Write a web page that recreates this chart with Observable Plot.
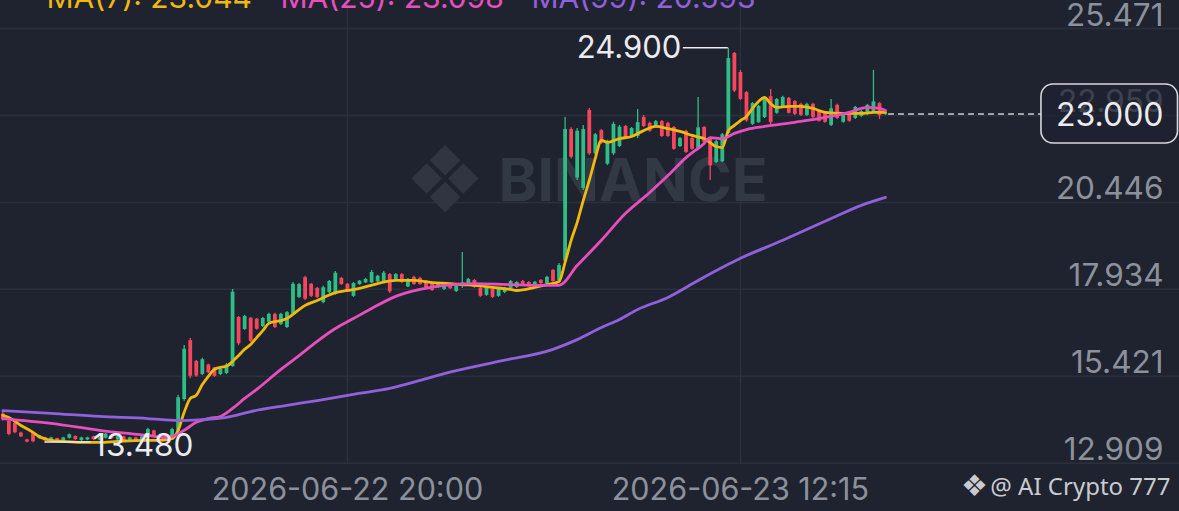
<!DOCTYPE html>
<html><head><meta charset="utf-8">
<script src="https://cdn.jsdelivr.net/npm/d3@7"></script>
<script src="https://cdn.jsdelivr.net/npm/@observablehq/plot@0.6"></script>
<style>
html,body{margin:0;padding:0;background:#1f2330;overflow:hidden;}
#chart svg{display:block;}
</style></head><body><div id="chart"></div>
<script>
// ---- data (15-minute candles, first one 2026-06-22 05:45 UTC) ----
const startTime = "2026-06-22T05:45:00Z";
const open = [14.33,14.12,14.06,13.78,13.58,13.77,13.63,13.64,13.57,13.62,13.55,13.63,13.68,13.56,13.58,13.67,13.58,13.63,13.71,13.58,
13.67,13.57,13.64,13.58,13.72,13.84,13.64,13.70,13.63,13.83,14.75,16.45,15.85,15.47,15.75,15.66,15.47,15.50,15.70,17.12,
16.77,17.10,17.07,16.86,16.98,17.21,16.92,16.83,17.21,17.70,18.27,18.08,17.96,17.55,17.84,17.79,18.25,18.08,17.73,18.07,
18.12,18.12,18.15,18.16,18.36,18.21,18.36,18.00,18.28,18.25,18.17,18.11,17.99,17.93,18.08,17.87,18.02,18.10,18.19,17.96,
17.76,17.93,17.73,17.84,17.96,17.99,18.16,18.13,18.07,18.19,18.10,18.48,18.19,18.75,22.55,21.15,20.85,23.10,21.85,22.52,
21.55,21.85,22.06,22.64,22.35,22.35,22.90,22.73,22.64,22.78,22.73,22.61,22.06,22.50,22.29,22.00,22.61,22.29,21.60,21.62,
22.44,24.75,24.20,23.62,22.70,22.75,22.90,23.50,23.02,23.19,23.45,23.36,23.28,22.96,23.28,23.07,23.02,22.67,23.25,22.76,
23.05,22.87,22.93,22.99,23.05,23.30,22.98];
const high = [14.40,14.16,14.09,13.80,13.60,13.80,13.72,13.66,13.66,13.63,13.66,13.75,13.70,13.66,13.66,13.69,13.66,13.77,13.73,13.69,
13.69,13.66,13.66,13.69,13.92,13.86,13.75,13.71,13.92,14.87,16.31,16.51,15.88,15.94,15.77,15.68,15.65,15.79,17.93,17.15,
17.18,17.12,17.09,17.12,17.24,17.24,17.24,17.29,18.13,18.10,18.31,18.10,17.99,18.02,18.19,18.45,18.28,18.10,18.13,18.19,
18.25,18.48,18.34,18.45,18.39,18.39,18.39,18.25,18.31,18.28,18.19,18.13,18.10,18.13,18.10,18.05,19.00,18.25,18.22,17.99,
17.99,17.96,17.96,17.99,18.19,18.16,18.19,18.16,18.16,18.22,18.31,18.51,18.68,22.90,22.60,22.58,22.67,23.16,22.44,22.55,
22.24,22.76,22.67,22.67,22.61,23.13,22.96,22.76,22.81,22.81,22.76,22.64,22.32,22.53,22.32,23.48,22.64,22.32,22.24,22.44,
24.90,24.78,24.26,23.65,23.33,23.25,23.45,23.71,23.45,23.51,23.48,23.39,23.31,23.31,23.31,23.10,23.05,23.42,23.28,23.02,
23.07,23.22,23.10,23.28,24.26,23.33,23.03];
const low = [14.12,13.70,13.76,13.65,13.50,13.50,13.60,13.48,13.55,13.53,13.53,13.61,13.57,13.54,13.56,13.57,13.56,13.61,13.60,13.56,
13.53,13.55,13.51,13.56,13.70,13.65,13.62,13.57,13.60,13.79,14.70,15.35,15.39,15.44,15.50,15.39,15.44,15.47,15.68,16.31,
16.75,16.40,16.75,16.83,16.95,16.80,16.89,16.80,17.19,17.67,17.61,17.70,17.67,17.52,17.81,17.76,18.05,17.84,17.70,18.05,
18.10,18.10,18.13,18.13,17.81,18.19,18.10,17.99,18.05,18.05,17.96,17.87,17.96,17.90,17.93,17.84,17.96,18.07,17.96,17.70,
17.73,17.67,17.70,17.81,17.93,17.96,18.02,17.99,18.04,18.07,18.07,18.13,18.16,18.72,21.70,21.08,20.79,21.80,21.80,22.12,
21.51,21.80,22.03,22.29,22.32,22.29,22.61,22.47,22.61,22.32,22.32,21.95,22.03,21.86,21.95,21.95,22.15,21.08,21.57,21.60,
22.40,23.62,23.39,22.76,22.67,22.73,22.87,22.67,22.99,23.16,23.00,22.96,22.93,22.93,22.87,22.76,22.73,22.64,22.84,22.73,
22.76,22.84,22.90,22.96,23.02,22.84,22.96];
const close = [14.16,13.74,13.79,13.67,13.52,13.53,13.70,13.55,13.64,13.56,13.64,13.73,13.59,13.64,13.64,13.59,13.64,13.75,13.62,13.67,
13.55,13.64,13.53,13.67,13.88,13.68,13.72,13.59,13.88,14.80,16.20,15.42,15.43,15.90,15.52,15.42,15.62,15.75,17.85,16.36,
17.15,16.43,16.78,17.09,17.21,16.83,17.21,17.26,18.08,18.07,17.65,17.73,17.70,17.98,18.16,18.40,18.07,17.86,18.10,18.17,
18.22,18.42,18.31,18.40,17.86,18.36,18.13,18.22,18.07,18.07,17.98,17.90,18.08,18.11,17.95,18.02,18.12,18.22,17.99,17.73,
17.96,17.70,17.93,17.96,18.16,18.13,18.04,18.01,18.14,18.10,18.28,18.16,18.62,22.55,21.75,22.50,22.55,21.85,22.40,22.15,
22.20,22.70,22.62,22.32,22.58,22.75,22.64,22.50,22.78,22.35,22.35,21.98,22.29,21.89,21.98,22.60,22.18,21.50,22.20,22.40,
24.60,23.66,23.42,22.80,23.30,23.22,23.42,22.75,23.42,23.48,23.02,22.99,22.96,23.28,22.90,22.79,22.76,23.15,22.87,22.99,
22.79,23.19,23.07,23.25,23.35,22.95,23.00];

// moving averages (candle index, value)
const ma7Idx = [0,1,3,5,6,8,10,13,16,19,23,26,28,29,30,31,32,33,34,35,36,37,38,39,40,41,42,43,44,45,46,47,48,49,50,52,55,57,59,62,65,68,71,74,76,78,81,84,85,88,90,92,93,94,95,96,97,98,99,100,102,104,106,108,110,112,114,116,118,119,120,121,122,123,124,125,126,127,128,130,132,134,136,139,142,144,146];
const ma7Val = [14.29,14.23,14.00,13.80,13.68,13.57,13.54,13.51,13.51,13.54,13.57,13.57,13.62,13.86,14.38,14.78,14.87,15.18,15.42,15.62,15.68,15.71,15.85,16.02,16.20,16.34,16.54,16.74,16.95,17.00,17.03,17.09,17.21,17.35,17.47,17.61,17.84,17.90,17.96,18.10,18.19,18.19,18.13,18.10,18.07,18.05,17.99,17.93,17.90,17.99,18.07,18.16,18.71,19.35,19.87,20.50,21.08,21.72,22.24,22.18,22.29,22.35,22.52,22.64,22.58,22.50,22.38,22.29,22.06,22.03,22.52,22.67,22.81,22.93,23.16,23.36,23.48,23.30,23.19,23.22,23.22,23.16,23.05,23.02,23.02,23.05,23.05];
const ma25Idx = [0,8,16,24,27,28,30,32,34,36,38,40,42,46,49,52,55,58,61,65,69,73,78,84,89,92,95,99,103,107,110,113,116,117,119,121,123,126,131,136,140,143,145,146];
const ma25Val = [14.20,14.06,13.86,13.71,13.65,13.68,13.86,14.09,14.20,14.26,14.49,14.78,15.04,15.62,16.02,16.43,16.80,17.09,17.38,17.73,17.93,18.05,18.10,18.07,18.05,18.05,18.62,19.35,20.13,20.73,21.22,21.74,22.15,22.32,22.29,22.44,22.55,22.64,22.76,22.90,23.05,23.19,23.16,23.10];
const ma99Idx = [0,8,16,24,29,33,37,41,47,52,58,64,69,73,82,91,95,99,102,105,110,115,122,129,137,142,146];
const ma99Val = [14.43,14.35,14.26,14.20,14.14,14.17,14.23,14.40,14.58,14.72,14.90,15.07,15.30,15.50,15.85,16.20,16.48,16.83,17.06,17.35,17.70,18.19,18.83,19.35,19.98,20.36,20.59];

const yTicks = [25.471, 22.959, 20.446, 17.934, 15.421, 12.909];
const xTickLabels = ["2026-06-22 20:00", "2026-06-23 12:15"];
const legendLabels = ["MA(7): 23.044", "MA(25): 23.098", "MA(99): 20.593"];
const lastPrice = 23.000;
const signature = "@ AI Crypto 777";

// ---- build ----
const T0 = Date.parse(startTime), STEP = 15 * 60 * 1000;
const toT = i => new Date(T0 + i * STEP);
const candles = open.map((o, i) => ({t: toT(i), o, h: high[i], l: low[i], c: close[i], up: close[i] >= o}));
const mk = (idx, val) => idx.map((k, j) => ({t: toT(k), v: val[j]}));
const ma7 = mk(ma7Idx, ma7Val), ma25 = mk(ma25Idx, ma25Val), ma99 = mk(ma99Idx, ma99Val);
const xTicks = xTickLabels.map(s => new Date(s.replace(" ", "T") + ":00Z"));
const hiIdx = d3.maxIndex(high), loIdx = d3.minIndex(low);
const lastIdx = close.length - 1;

const GREEN = "#2ebd85", RED = "#f6465d";
const C7 = "#f0b90b", C25 = "#e84fbe", C99 = "#9160db";
const GRID = "#2c303b", LABEL = "#8c919b", WHITE = "#eaecef";
const FONT = "Inter, 'Noto Sans', sans-serif";

const svg = Plot.plot({
  width: 1179, height: 511,
  marginTop: 0, marginRight: 0, marginBottom: 0, marginLeft: 0,
  style: {background: "#1f2330", fontFamily: FONT},
  x: {type: "utc", domain: [new Date("2026-06-22T05:39:18Z"), new Date("2026-06-24T06:24:18Z")], range: [0, 1179], axis: null},
  y: {domain: [12.909, 25.471], range: [462.7, 28], axis: null},
  marks: [
    Plot.ruleY(yTicks, {stroke: GRID, strokeWidth: 1.5}),
    Plot.ruleX(xTicks, {stroke: GRID, strokeWidth: 1.5, insetBottom: 48}),
    // watermark
    Plot.text(["❖"], {frameAnchor: "top", dx: -145, dy: 182, lineAnchor: "middle", fontSize: 92, fill: "#303541", fontFamily: "DejaVu Sans"}),
    Plot.text(["BINANCE"], {frameAnchor: "top", dx: 43, dy: 182, lineAnchor: "middle", fontSize: 59, fontWeight: 700, fill: "#333845", fontFamily: FONT, letterSpacing: "2px"}),
    // candles
    Plot.ruleX(candles, {x: "t", y1: "l", y2: "h", stroke: d => d.up ? GREEN : RED, strokeWidth: 1.3}),
    Plot.ruleX(candles, {x: "t", y1: "o", y2: "c", stroke: d => d.up ? GREEN : RED, strokeWidth: 3.8}),
    // moving averages
    Plot.line(ma7, {x: "t", y: "v", stroke: C7, strokeWidth: 2.8, curve: "monotone-x"}),
    Plot.line(ma25, {x: "t", y: "v", stroke: C25, strokeWidth: 2.8, curve: "monotone-x"}),
    Plot.line(ma99, {x: "t", y: "v", stroke: C99, strokeWidth: 2.8, curve: "monotone-x"}),
    // y-axis labels
    Plot.text(yTicks, {y: d => d, text: d => d.toFixed(3), frameAnchor: "right", dx: -16, dy: -3, textAnchor: "end", lineAnchor: "bottom", fill: LABEL, fontSize: 31.5, fontFamily: FONT}),
    // x-axis labels
    Plot.text(xTicks, {x: d => d, text: (d, i) => xTickLabels[i], frameAnchor: "bottom", dy: -21, lineAnchor: "middle", fill: LABEL, fontSize: 30.5, fontFamily: FONT}),
    // last price dashed line + label
    Plot.ruleY([lastPrice], {stroke: "#c8ccd2", strokeWidth: 1.3, strokeDasharray: "6,4"}),
    Plot.text([lastPrice], {y: d => d, text: d => d.toFixed(3), frameAnchor: "right", dx: -16, dy: 2, textAnchor: "end", lineAnchor: "middle", fill: WHITE, fontSize: 32, fontFamily: FONT}),
    // high / low labels
    Plot.text([hiIdx], {x: i => toT(i), y: i => high[i], text: i => high[i].toFixed(3), textAnchor: "end", dx: -47, lineAnchor: "middle", fill: WHITE, fontSize: 31, fontFamily: FONT}),
    Plot.text([loIdx], {x: i => toT(i), y: i => low[i], text: i => low[i].toFixed(3), textAnchor: "start", dx: 48, dy: 2, lineAnchor: "middle", fill: WHITE, fontSize: 31.5, fontFamily: FONT}),
    // legend (cut at the top)
    Plot.text([legendLabels[0]], {frameAnchor: "top-left", dx: 46, dy: 7, lineAnchor: "bottom", fill: C7, fontSize: 30, fontFamily: FONT}),
    Plot.text([legendLabels[1]], {frameAnchor: "top-left", dx: 280, dy: 7, lineAnchor: "bottom", fill: C25, fontSize: 30, fontFamily: FONT}),
    Plot.text([legendLabels[2]], {frameAnchor: "top-left", dx: 531, dy: 7, lineAnchor: "bottom", fill: C99, fontSize: 30, fontFamily: FONT}),
    // signature
    Plot.text([signature], {frameAnchor: "bottom-right", dx: -9, dy: -24, textAnchor: "end", lineAnchor: "middle", fill: "#c9cbcf", fontSize: 24, fontFamily: "'Noto Sans', sans-serif"}),
    Plot.text(["❖"], {frameAnchor: "bottom-right", dx: -205, dy: -25, textAnchor: "middle", lineAnchor: "middle", fill: "#c9cbcf", fontSize: 30, fontFamily: "DejaVu Sans"})
  ]
});
document.getElementById("chart").append(svg);

// ---- decorations placed through the plot's own scales ----
try {
  const sx = svg.scale("x"), sy = svg.scale("y");
  const sel = d3.select(svg);
  const sr = svg.getBoundingClientRect();
  // connector lines of the high / low labels
  const hx = sx.apply(toT(hiIdx)), hy = sy.apply(high[hiIdx]);
  sel.append("line").attr("x1", hx - 45).attr("x2", hx).attr("y1", hy).attr("y2", hy).attr("stroke", WHITE).attr("stroke-width", 1.6);
  const lx = sx.apply(toT(loIdx)), ly = sy.apply(low[loIdx]);
  sel.append("line").attr("x1", lx).attr("x2", lx + 46).attr("y1", ly - 1).attr("y2", ly - 1).attr("stroke", WHITE).attr("stroke-width", 1.6);
  // rounded box of the last price
  const pt = Array.from(svg.querySelectorAll("text")).find(t => t.textContent === lastPrice.toFixed(3));
  const pg = pt.parentNode;
  const r = pt.getBoundingClientRect();
  const cy = sy.apply(lastPrice);
  const bx = r.left - sr.left - 15, bw = r.width + 29;
  const rect = document.createElementNS("http://www.w3.org/2000/svg", "rect");
  rect.setAttribute("x", bx); rect.setAttribute("y", cy - 29.5);
  rect.setAttribute("width", bw); rect.setAttribute("height", 59);
  rect.setAttribute("rx", 12); rect.setAttribute("fill", "#1f2330"); rect.setAttribute("fill-opacity", 0.72);
  rect.setAttribute("stroke", "#d5d8dc"); rect.setAttribute("stroke-width", 1.6);
  pg.parentNode.insertBefore(rect, pg);
  // dashed last-price line: from the last candle to the box
  const pl = svg.querySelector('[stroke-dasharray] line') || svg.querySelector('line[stroke-dasharray]');
  if (pl) { pl.setAttribute("x1", sx.apply(toT(lastIdx)) + 3); pl.setAttribute("x2", bx); }
} catch (e) { console.error(e); }
</script></body></html>
